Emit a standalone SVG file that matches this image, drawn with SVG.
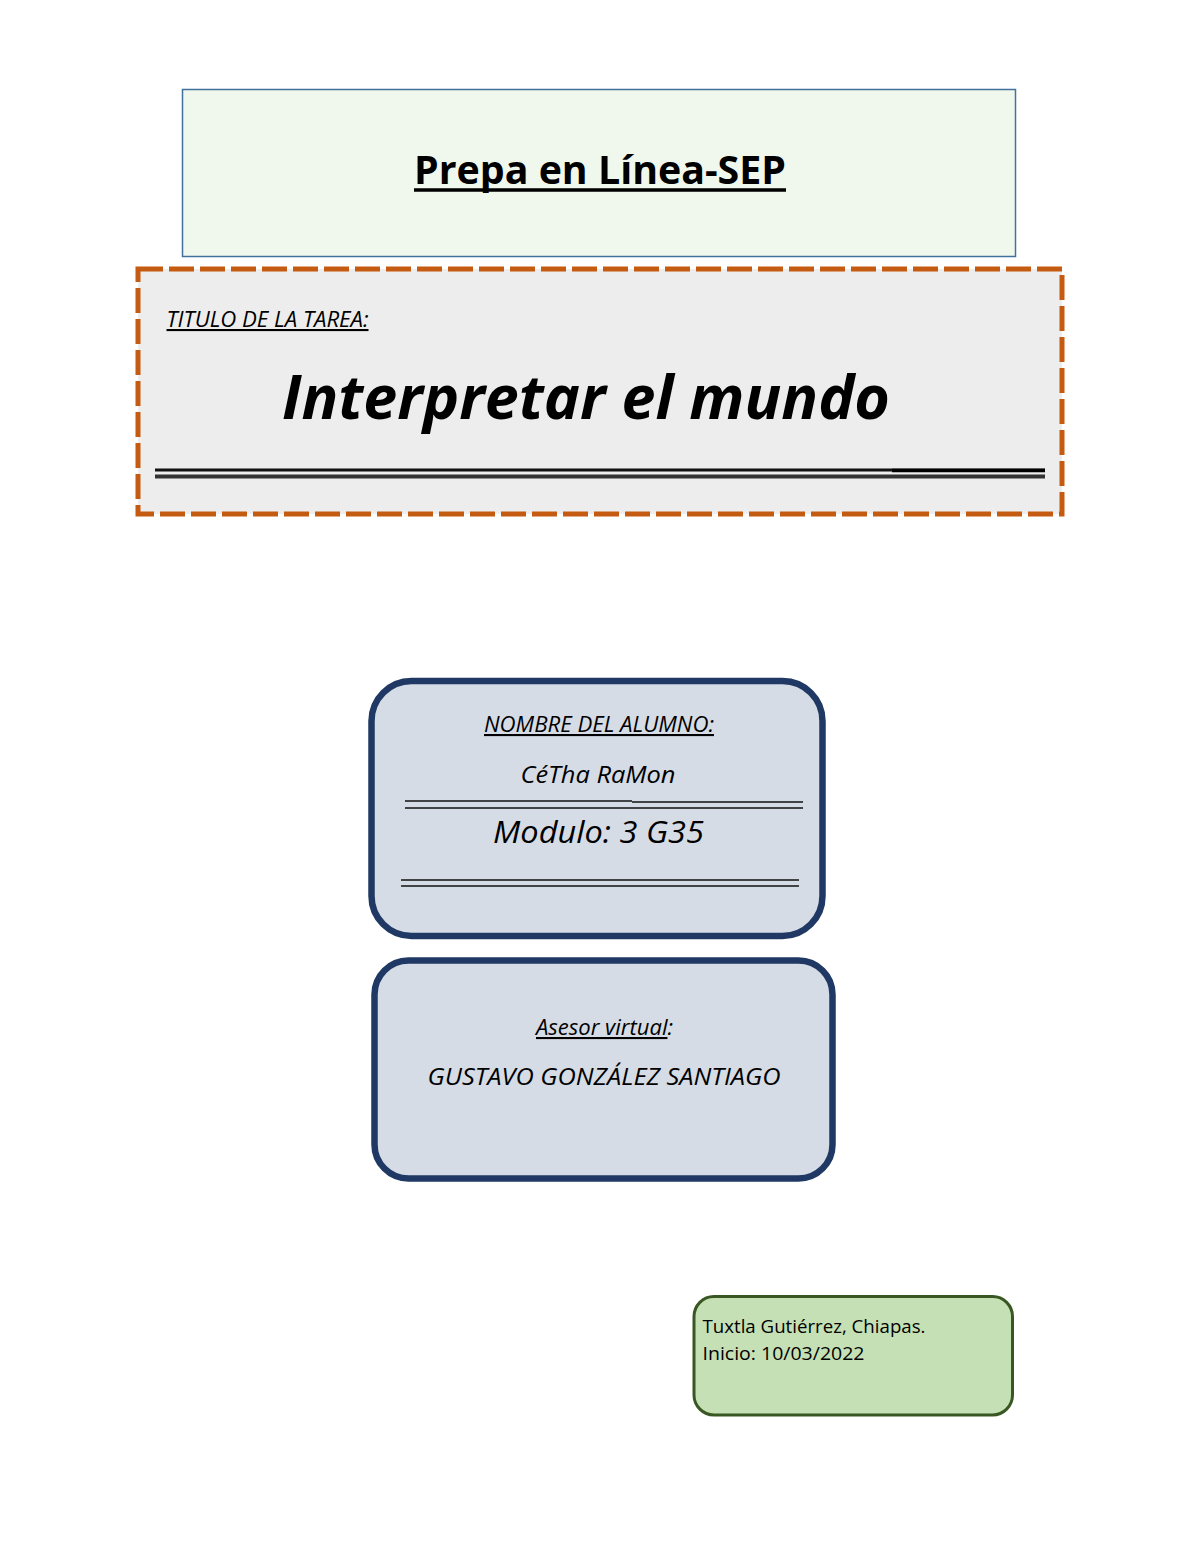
<svg xmlns="http://www.w3.org/2000/svg" width="1200" height="1553" viewBox="0 0 1200 1553">
<style>
text{font-family:"Open Sans","Noto Sans","Liberation Sans",sans-serif;fill:#000}
.i{font-style:italic}
.u{text-decoration:underline}
.blue{fill:#d6dce5;stroke:#1f3864;stroke-width:6.500}
.rule{stroke:#111;fill:none}
</style>
<rect width="1200" height="1553" fill="#fff"/>
<g id="header">
<rect x="182.500" y="89.500" width="833" height="167" fill="#f0f7ed" stroke="#41719c" stroke-width="1.500"/>
<text x="414" y="184" font-size="39" font-weight="700" textLength="372" lengthAdjust="spacingAndGlyphs">Prepa en Línea-SEP</text>
<path d="M414 190H786" stroke="#000" stroke-width="3.500" fill="none"/>
</g>
<g id="title">
<rect x="138" y="269" width="924" height="245" fill="#ededed" stroke="#c55a11" stroke-width="5" stroke-dasharray="25 6"/>
<text x="166.500" y="327" font-size="21" class="i u" textLength="202" lengthAdjust="spacingAndGlyphs">TITULO DE LA TAREA:</text>
<text x="282" y="418.500" font-size="61" font-weight="700" class="i" textLength="608" lengthAdjust="spacingAndGlyphs">Interpretar el mundo</text>
<path class="rule" stroke-width="3" d="M155 470H1045"/>
<path class="rule" stroke-width="4" d="M155 476.500H1045" style="stroke:#333"/>
<path class="rule" stroke-width="3.500" d="M892 470.500H1045" style="stroke:#000"/>
</g>
<g id="student">
<rect x="371.500" y="681" width="451" height="255" rx="40" class="blue"/>
<text x="484" y="732" font-size="21" class="i u" textLength="230" lengthAdjust="spacingAndGlyphs">NOMBRE DEL ALUMNO:</text>
<text x="520.500" y="783" font-size="24" class="i" textLength="155" lengthAdjust="spacingAndGlyphs">CéTha RaMon</text>
<path class="rule" stroke-width="1.500" d="M405 801H632M632 802H803M405 808H803"/>
<text x="493" y="843" font-size="31" class="i" textLength="211" lengthAdjust="spacingAndGlyphs">Modulo: 3 G35</text>
<path class="rule" stroke-width="1.500" d="M401 880H799M401 886H799"/>
</g>
<g id="advisor">
<rect x="374.500" y="960.500" width="458" height="218" rx="34" class="blue"/>
<text x="536" y="1035" font-size="21" class="i" textLength="137" lengthAdjust="spacingAndGlyphs"><tspan class="u">Asesor virtual</tspan>:</text>
<text x="427.500" y="1085" font-size="24" class="i" textLength="353" lengthAdjust="spacingAndGlyphs">GUSTAVO GONZÁLEZ SANTIAGO</text>
</g>
<g id="place">
<rect x="694" y="1296.500" width="318.500" height="118.500" rx="20" fill="#c5e0b4" stroke="#385723" stroke-width="3"/>
<text x="702.500" y="1333" font-size="19" textLength="223" lengthAdjust="spacingAndGlyphs">Tuxtla Gutiérrez, Chiapas.</text>
<text x="702.500" y="1360" font-size="19" textLength="162" lengthAdjust="spacingAndGlyphs">Inicio: 10/03/2022</text>
</g>
<g id="connectors"/>
</svg>
